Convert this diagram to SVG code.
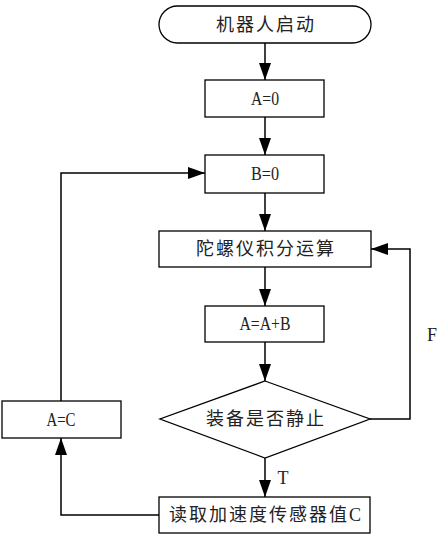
<svg xmlns="http://www.w3.org/2000/svg" width="440" height="538" viewBox="0 0 440 538">
<style>
.box{fill:#fff;stroke:#000;stroke-width:1.3}
.ln{fill:none;stroke:#000;stroke-width:1.5}
.t{font-family:"Liberation Serif","Noto Sans CJK SC",serif;font-size:18px;fill:#222;text-anchor:middle;dominant-baseline:central}
.cn{letter-spacing:2px}
</style>
<defs>
<marker id="ar" markerWidth="17" markerHeight="12" refX="17" refY="6" orient="auto" markerUnits="userSpaceOnUse">
<path d="M0,0 L17,6 L0,12 Z" fill="#000"/>
</marker>
</defs>
<rect width="440" height="538" fill="#fff"/>
<g id="connectors">
<line class="ln" x1="265" y1="43" x2="265" y2="80" marker-end="url(#ar)"/>
<line class="ln" x1="265" y1="117" x2="265" y2="155" marker-end="url(#ar)"/>
<line class="ln" x1="265" y1="193" x2="265" y2="231" marker-end="url(#ar)"/>
<line class="ln" x1="265" y1="267" x2="265" y2="306" marker-end="url(#ar)"/>
<line class="ln" x1="265" y1="342" x2="265" y2="381" marker-end="url(#ar)"/>
<line class="ln" x1="265" y1="458" x2="265" y2="497" marker-end="url(#ar)"/>
<polyline class="ln" points="370,419 410,419 410,249 371,249" marker-end="url(#ar)"/>
<polyline class="ln" points="159,515 61,515 61,438" marker-end="url(#ar)"/>
<polyline class="ln" points="61,401 61,173 205,173" marker-end="url(#ar)"/>
<text class="t" x="432" y="335">F</text>
<text class="t" x="283" y="478">T</text>
</g>
<g id="start">
<rect class="box" x="159" y="6" width="212" height="37" rx="18.5"/>
<text class="t cn" x="266" y="25">机器人启动</text>
</g>
<g id="a0">
<rect class="box" x="205" y="80" width="119" height="37"/>
<text class="t" x="265" y="99" textLength="28" lengthAdjust="spacingAndGlyphs">A=0</text>
</g>
<g id="b0">
<rect class="box" x="205" y="155" width="119" height="38"/>
<text class="t" x="265" y="174" textLength="28" lengthAdjust="spacingAndGlyphs">B=0</text>
</g>
<g id="gyro">
<rect class="box" x="159" y="231" width="212" height="36"/>
<text class="t cn" x="266" y="249">陀螺仪积分运算</text>
</g>
<g id="aab">
<rect class="box" x="205" y="306" width="119" height="36"/>
<text class="t" x="265" y="324" textLength="51" lengthAdjust="spacingAndGlyphs">A=A+B</text>
</g>
<g id="decision">
<polygon class="box" points="265,381 370,419 265,458 160,419"/>
<text class="t cn" x="266" y="419">装备是否静止</text>
</g>
<g id="ac">
<rect class="box" x="2" y="401" width="119" height="37"/>
<text class="t" x="61" y="420" textLength="29" lengthAdjust="spacingAndGlyphs">A=C</text>
</g>
<g id="read">
<rect class="box" x="159" y="497" width="211" height="36"/>
<text class="t cn" x="266" y="515">读取加速度传感器值C</text>
</g>
</svg>
